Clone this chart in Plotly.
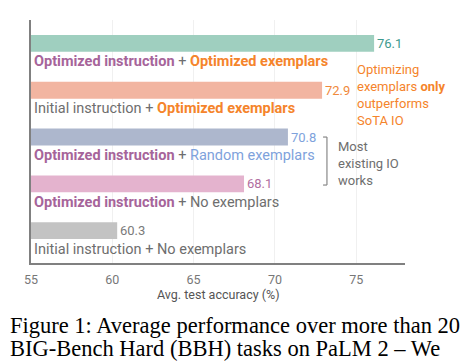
import plotly.graph_objects as go

# Data
settings = [
    "Optimized instruction + Optimized exemplars",
    "Initial instruction + Optimized exemplars",
    "Optimized instruction + Random exemplars",
    "Optimized instruction + No exemplars",
    "Initial instruction + No exemplars",
]
accuracy = [76.1, 72.9, 70.8, 68.1, 60.3]
x_ticks = [55, 60, 65, 70, 75]

bar_colors = ["#9fcfbf", "#f2b5a1", "#adb7cd", "#e4b3ce", "#c3c3c3"]
value_colors = ["#3d9a8e", "#f08a3c", "#7ea2dc", "#b26fa0", "#7a7a7a"]

PURPLE = "#a6649a"
ORANGE = "#f5842b"
GRAY = "#6e6e6e"
BLUE = "#7ea2dc"

def part(txt, color, bold=False):
    s = f"<span style='color:{color}'>{txt}</span>"
    return f"<b>{s}</b>" if bold else s

label_html = [
    part("Optimized instruction", PURPLE, True) + part(" + ", GRAY) + part("Optimized exemplars", ORANGE, True),
    part("Initial instruction", GRAY) + part(" + ", GRAY) + part("Optimized exemplars", ORANGE, True),
    part("Optimized instruction", PURPLE, True) + part(" + ", GRAY) + part("Random exemplars", BLUE),
    part("Optimized instruction", PURPLE, True) + part(" + ", GRAY) + part("No exemplars", GRAY),
    part("Initial instruction", GRAY) + part(" + ", GRAY) + part("No exemplars", GRAY),
]

n = len(settings)
ypos = [n - 1 - i for i in range(n)]

FONT = "Roboto"

fig = go.Figure()
fig.add_trace(go.Bar(
    x=accuracy, y=ypos, orientation="h", base=0,
    marker=dict(color=bar_colors, line=dict(width=0)),
    width=0.36, hoverinfo="skip",
))

annotations = []
for i in range(n):
    annotations.append(dict(
        x=accuracy[i], y=ypos[i], xref="x", yref="y", text=str(accuracy[i]),
        showarrow=False, xanchor="left", xshift=1,
        font=dict(family=FONT, size=13, color=value_colors[i]),
    ))
    annotations.append(dict(
        x=55, y=ypos[i] - 0.395, xref="x", yref="y", text=label_html[i],
        showarrow=False, xanchor="left", xshift=1,
        font=dict(family=FONT, size=14.5, color=GRAY),
    ))

annotations.append(dict(
    x=74.93, y=2.9, xref="x", yref="y",
    text="Optimizing<br>exemplars <b>only</b><br>outperforms<br>SoTA IO",
    showarrow=False, xanchor="left", align="left",
    font=dict(family=FONT, size=13, color=ORANGE),
))
annotations.append(dict(
    x=73.76, y=1.44, xref="x", yref="y",
    text="Most<br>existing IO<br>works",
    showarrow=False, xanchor="left", align="left",
    font=dict(family=FONT, size=13, color=GRAY),
))
annotations.append(dict(
    x=0.5, y=-0.13, xref="paper", yref="paper",
    text="Avg. test accuracy (%)", showarrow=False, xanchor="center", yanchor="middle",
    font=dict(family=FONT, size=12.5, color="#555555"),
))
annotations.append(dict(
    x=-0.0615, y=-0.259, xref="paper", yref="paper",
    text="Figure 1: Average performance over more than 20",
    showarrow=False, xanchor="left", yanchor="middle",
    font=dict(family="Liberation Serif", size=22.5, color="black"),
))
annotations.append(dict(
    x=-0.0615, y=-0.352, xref="paper", yref="paper",
    text="BIG-Bench Hard (BBH) tasks on PaLM 2 – We",
    showarrow=False, xanchor="left", yanchor="middle",
    font=dict(family="Liberation Serif", size=22.5, color="black"),
))

shapes = [
    dict(type="line", xref="x", yref="y", x0=73.2, x1=73.2, y0=2.0, y1=0.975,
         line=dict(color="#888888", width=1.2)),
    dict(type="line", xref="x", yref="y", x0=72.96, x1=73.2, y0=2.0, y1=2.0,
         line=dict(color="#888888", width=1.2)),
    dict(type="line", xref="x", yref="y", x0=72.96, x1=73.2, y0=0.975, y1=0.975,
         line=dict(color="#888888", width=1.2)),
]

fig.update_layout(
    width=474, height=364,
    margin=dict(l=31, r=69, t=20, b=101),
    paper_bgcolor="white", plot_bgcolor="white",
    showlegend=False,
    annotations=annotations, shapes=shapes,
    xaxis=dict(
        range=[55, 78], tickvals=x_ticks, ticktext=[str(t) for t in x_ticks],
        showgrid=True, gridcolor="#f0f0f0", gridwidth=1,
        showline=True, linecolor="#808080", linewidth=1.5,
        zeroline=False, ticks="", ticklabelstandoff=4,
        tickfont=dict(family=FONT, size=12.5, color="#777777"),
    ),
    yaxis=dict(
        range=[-0.69, 4.5], showticklabels=False, showgrid=False,
        showline=True, linecolor="#808080", linewidth=1.5, zeroline=False,
    ),
)

fig.write_html("out.html", config={"displayModeBar": False},
               post_script="document.body.style.margin='0';")
